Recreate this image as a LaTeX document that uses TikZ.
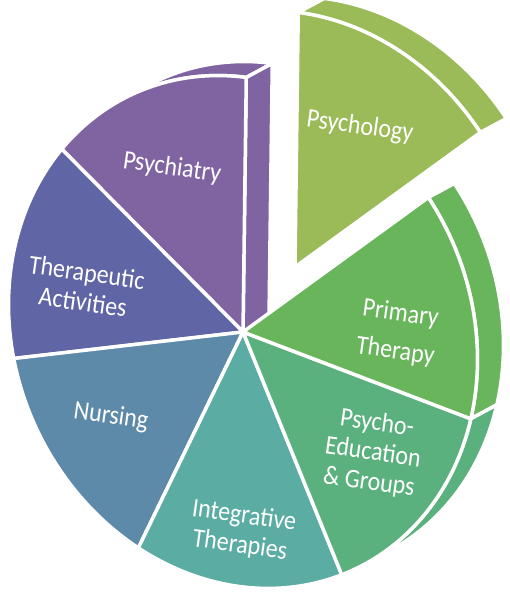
\documentclass[tikz,border=0pt]{standalone}
\usepackage{fontspec}
\setmainfont{Carlito}
\definecolor{psygreen}{HTML}{9BBB59}
\definecolor{primgreen}{HTML}{69B55C}
\definecolor{edugreen}{HTML}{5BB17E}
\definecolor{integteal}{HTML}{5BADA3}
\definecolor{nursblue}{HTML}{5E8AA9}
\definecolor{actblue}{HTML}{6065A6}
\definecolor{psypurple}{HTML}{8064A2}

\begin{document}
\begin{tikzpicture}[x=1pt,y=1pt,
  slice/.style={draw=white,line width=3.5pt,line join=round},
  lbl/.style={text=white,font=\fontsize{24}{26.5}\selectfont,align=center,
              rotate=-8,yscale=1.12,inner sep=0pt},
]
  \useasboundingbox (0,0) rectangle (510,596);

  % Psychology (pulled out of the pie)
  \begin{scope}[shift={(295,329)},rotate=115,xscale=1.15]
    \path[slice,fill=psygreen] (279.57:228) arc[start angle=279.57,end angle=331,radius=228]
      -- ++(1.5,-29.5) arc[start angle=331,end angle=279.57,radius=228] -- cycle;
    \path[slice,fill=psygreen] (0,0) -- (279.57:228)
      arc[start angle=279.57,end angle=331,radius=228] -- cycle;
  \end{scope}

  % rest of the pie
  \begin{scope}[shift={(243,264)},rotate=115,xscale=1.15]
    % outer walls
    \path[slice,fill=psypurple] (-29:228) arc[start angle=-29,end angle=3,radius=228]
      -- ++(1.5,-29.5) arc[start angle=3,end angle=-29,radius=228] -- cycle;
    \path[slice,fill=psypurple] (0,0) -- (-29:228) -- ++(1.5,-29.5) -- (1.5,-29.5) -- cycle;
    \path[slice,fill=primgreen] (228.14:228) arc[start angle=228.14,end angle=279.57,radius=228]
      -- ++(1.5,-29.5) arc[start angle=279.57,end angle=228.14,radius=228] -- cycle;
    \path[slice,fill=edugreen] (183:228) arc[start angle=183,end angle=228.14,radius=228]
      -- ++(1.5,-29.5) arc[start angle=228.14,end angle=183,radius=228] -- cycle;

    % front faces
    \path[slice,fill=psypurple] (0,0) -- (-29:228)
      arc[start angle=-29,end angle=22.43,radius=228] -- cycle;
    \path[slice,fill=actblue] (0,0) -- (22.43:228)
      arc[start angle=22.43,end angle=73.86,radius=228] -- cycle;
    \path[slice,fill=nursblue] (0,0) -- (73.86:228)
      arc[start angle=73.86,end angle=125.29,radius=228] -- cycle;
    \path[slice,fill=integteal] (0,0) -- (125.29:228)
      arc[start angle=125.29,end angle=176.71,radius=228] -- cycle;
    \path[slice,fill=edugreen] (0,0) -- (176.71:228)
      arc[start angle=176.71,end angle=228.14,radius=228] -- cycle;
    \path[slice,fill=primgreen] (0,0) -- (228.14:228)
      arc[start angle=228.14,end angle=279.57,radius=228] -- cycle;
  \end{scope}

  % labels
  \node[lbl] (psychology) at (360,469) {Psychology};
  \node[lbl,font=\fontsize{24}{34}\selectfont] (primary) at (398,263) {Primary\\Therapy};
  \node[lbl] (psychoedu) at (373,143) {Psycho-\\Education\\\& Groups};
  \node[lbl] (integrative) at (242,65) {Integrative\\Therapies};
  \node[lbl] (nursing) at (111,179) {Nursing};
  \node[lbl] (activities) at (85,309) {Therapeutic\\Activities};
  \node[lbl] (psychiatry) at (172,428) {Psychiatry};
\end{tikzpicture}
\end{document}
